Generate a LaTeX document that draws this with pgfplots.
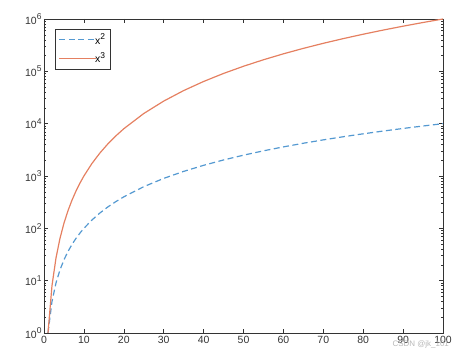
\documentclass[border=0pt]{standalone}
\usepackage{pgfplots}
\pgfplotsset{compat=1.18}
\usepackage{fontspec}
\setmainfont{Liberation Sans}
\definecolor{mblue}{rgb}{0.33,0.60,0.82}
\definecolor{morange}{rgb}{0.90,0.50,0.38}
\definecolor{axgray}{rgb}{0.2,0.2,0.2}
\newcommand{\sps}[1]{\raisebox{0.42em}{\fontsize{8.5}{9}\selectfont #1}}
\begin{document}
\begin{tikzpicture}
\path[use as bounding box] (-44bp,-28bp) rectangle (430bp,333bp);
\begin{axis}[
  at={(0,0)}, anchor=south west,
  scale only axis, width=399bp, height=314bp,
  ymode=log,
  xmin=0, xmax=100, ymin=1, ymax=1e6,
  xtick={0,10,...,100},
  xticklabels={0,10,20,30,40,50,60,70,80,90,100},
  ytick={1,10,100,1000,10000,100000,1000000},
  yticklabels={10\sps{0},10\sps{1},10\sps{2},10\sps{3},10\sps{4},10\sps{5},10\sps{6}},
  tick align=inside,
  major tick length=4bp, minor tick length=2.2bp,
  axis line style={axgray, line width=0.6pt},
  every tick/.style={axgray, line width=0.5pt},
  tick label style={font=\fontsize{10.5}{11}\selectfont, text=axgray},
  yticklabel style={xshift=1pt},
  legend style={at={(0.028,0.968)}, anchor=north west, draw=axgray,
    font=\fontsize{10.5}{11}\selectfont, inner xsep=3.5pt, inner ysep=2.5pt, row sep=3pt, cells={anchor=west}},
  legend cell align=left,
  legend image code/.code={\draw[#1] (0bp,0bp) -- (37bp,0bp);},
]
\addplot[color=mblue, line width=1.2pt, dash pattern=on 6pt off 3.5pt] coordinates {
(1,1)(2,4)(3,9)(4,16)(5,25)(6,36)(7,49)(8,64)(9,81)(10,100)
(12,144)(14,196)(16,256)(18,324)(20,400)
(25,625)(30,900)(35,1225)(40,1600)(45,2025)(50,2500)(55,3025)(60,3600)
(65,4225)(70,4900)(75,5625)(80,6400)(85,7225)(90,8100)(95,9025)(100,10000)};
\addlegendentry{\hspace{-4pt}x\sps{2}}
\addplot[color=morange, line width=1.2pt] coordinates {
(1,1)(2,8)(3,27)(4,64)(5,125)(6,216)(7,343)(8,512)(9,729)(10,1000)
(12,1728)(14,2744)(16,4096)(18,5832)(20,8000)
(25,15625)(30,27000)(35,42875)(40,64000)(45,91125)(50,125000)(55,166375)(60,216000)
(65,274625)(70,343000)(75,421875)(80,512000)(85,614125)(90,729000)(95,857375)(100,1000000)};
\addlegendentry{\hspace{-4pt}x\sps{3}}
\end{axis}
\node[anchor=west, text=black!28, font=\fontsize{8}{9}\selectfont] at (345bp,-11bp) {CSDN @jk\_101};
\end{tikzpicture}
\end{document}
